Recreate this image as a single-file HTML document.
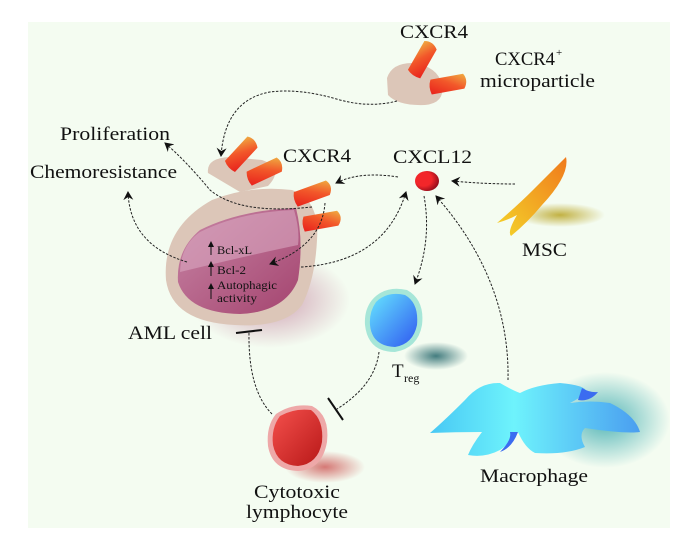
<!DOCTYPE html>
<html><head><meta charset="utf-8"><style>
html,body{margin:0;padding:0;background:#fff;width:685px;height:542px;overflow:hidden}
svg text{font-family:"Liberation Serif",serif;fill:#111}
</style></head><body>
<svg width="685" height="542" viewBox="0 0 685 542" xmlns="http://www.w3.org/2000/svg">
<defs>
<linearGradient id="rec" x1="0" y1="1" x2="1" y2="0"><stop offset="0" stop-color="#e8201c"/><stop offset="0.55" stop-color="#f2582a"/><stop offset="1" stop-color="#efb043"/></linearGradient>
<radialGradient id="blurm" cx="0.5" cy="0.5" r="0.5"><stop offset="0" stop-color="#b0547e" stop-opacity="0.55"/><stop offset="1" stop-color="#b0547e" stop-opacity="0"/></radialGradient>
<radialGradient id="blurr" cx="0.5" cy="0.5" r="0.5"><stop offset="0" stop-color="#c84040" stop-opacity="0.7"/><stop offset="1" stop-color="#c84040" stop-opacity="0"/></radialGradient>
<radialGradient id="blurt" cx="0.5" cy="0.5" r="0.5"><stop offset="0" stop-color="#2f6e72" stop-opacity="0.9"/><stop offset="1" stop-color="#2f6e72" stop-opacity="0"/></radialGradient>
<radialGradient id="blury" cx="0.5" cy="0.5" r="0.5"><stop offset="0" stop-color="#b9a424" stop-opacity="0.85"/><stop offset="1" stop-color="#b9a424" stop-opacity="0"/></radialGradient>
<radialGradient id="blurc" cx="0.5" cy="0.5" r="0.5"><stop offset="0" stop-color="#2aa3a8" stop-opacity="0.8"/><stop offset="1" stop-color="#2aa3a8" stop-opacity="0"/></radialGradient>
<linearGradient id="mag" x1="0" y1="0" x2="1" y2="1"><stop offset="0" stop-color="#c886a6"/><stop offset="1" stop-color="#a4446f"/></linearGradient>
<linearGradient id="treg" x1="0" y1="0" x2="1" y2="1"><stop offset="0" stop-color="#66e6ff"/><stop offset="1" stop-color="#2f57f0"/></linearGradient>
<linearGradient id="cyto" x1="0" y1="0" x2="1" y2="1"><stop offset="0" stop-color="#f4504c"/><stop offset="1" stop-color="#b81818"/></linearGradient>
<linearGradient id="mac" x1="0" y1="0" x2="1" y2="0"><stop offset="0" stop-color="#48c8f4"/><stop offset="0.4" stop-color="#6ef3fc"/><stop offset="1" stop-color="#4a9ef0"/></linearGradient>
<linearGradient id="msc" x1="0" y1="1" x2="1" y2="0"><stop offset="0" stop-color="#f4d42a"/><stop offset="1" stop-color="#f07a1c"/></linearGradient>
<radialGradient id="dot" cx="0.35" cy="0.4" r="0.7"><stop offset="0.5" stop-color="#f2262a"/><stop offset="1" stop-color="#8a0a1a"/></radialGradient>
<marker id="ah" markerWidth="10" markerHeight="10" refX="8" refY="5" orient="auto" markerUnits="userSpaceOnUse"><path d="M0,0 L9,5 L0,10 L3,5 Z" fill="#111"/></marker>
</defs>
<rect x="28" y="22" width="642" height="506" fill="#f4fcf1"/>
<!-- blurs -->
<ellipse cx="270" cy="300" rx="80" ry="48" fill="url(#blurm)"/>
<ellipse cx="325" cy="467" rx="40" ry="16" fill="url(#blurr)"/>
<ellipse cx="436" cy="356" rx="32" ry="14" fill="url(#blurt)"/>
<ellipse cx="560" cy="215" rx="45" ry="12" fill="url(#blury)"/>
<ellipse cx="605" cy="420" rx="65" ry="48" fill="url(#blurc)"/>
<!-- microparticle -->
<path d="M387,78 Q392,63 412,63 Q438,66 442,85 Q445,103 425,105 Q398,106 388,95 Z" fill="#dcc6b8"/>
<!-- AML cell -->
<path d="M208,173 Q206,158 230,157 L262,160 Q285,168 268,186 L240,192 Z" fill="#dcc6b8"/>
<path d="M212,200 Q250,185 292,190 Q320,200 317,240 Q315,280 302,305 Q285,328 235,325 Q172,322 166,280 Q162,228 212,200 Z" fill="#dcc6b8"/>
<path d="M200,230 Q240,210 296,208 Q304,240 298,280 Q285,312 240,314 Q188,313 178,282 Q176,250 200,230 Z" fill="url(#mag)"/>
<path d="M200,232 Q240,212 294,210 Q300,230 298,245 Q250,255 180,272 Q181,245 200,232 Z" fill="#d8a6c0" opacity="0.6"/>
<!-- receptors -->
<g transform="translate(243,154) rotate(-42)"><path d="M-18,-7 L15,-10 Q20,-3 15,5 L-18,8 Q-21,0 -18,-7 Z" fill="url(#rec)"/></g>
<g transform="translate(266,172) rotate(-20)"><path d="M-18,-7 L15,-10 Q20,-3 15,5 L-18,8 Q-21,0 -18,-7 Z" fill="url(#rec)"/></g>
<g transform="translate(314,194) rotate(-15)"><path d="M-19,-7 L15,-10 Q21,-3 15,5 L-19,8 Q-22,0 -19,-7 Z" fill="url(#rec)"/></g>
<g transform="translate(323,222) rotate(-5)"><path d="M-19,-7 L15,-10 Q21,-3 15,5 L-19,8 Q-22,0 -19,-7 Z" fill="url(#rec)"/></g>
<g transform="translate(424,59) rotate(-55)"><path d="M-18,-7 L15,-10 Q20,-3 15,5 L-18,8 Q-21,0 -18,-7 Z" fill="url(#rec)"/></g>
<g transform="translate(449,85) rotate(-5)"><path d="M-18,-7 L15,-10 Q20,-3 15,5 L-18,8 Q-21,0 -18,-7 Z" fill="url(#rec)"/></g>
<!-- CXCL12 dot -->
<ellipse cx="427" cy="181" rx="12" ry="10" fill="url(#dot)"/>
<!-- MSC -->
<path d="M566,157 Q570,175 542,205 Q528,222 511,236 Q507,232 517,215 Q508,220 497,223 Q518,205 533,190 Q553,170 566,157 Z" fill="url(#msc)"/>
<!-- Treg -->
<path d="M372,300 Q385,285 407,290 Q425,300 422,325 Q418,348 395,352 Q368,352 365,325 Q364,310 372,300 Z" fill="#a6e6d8"/>
<path d="M376,302 Q387,291 405,295 Q419,303 417,325 Q413,344 395,347 Q372,346 370,325 Q369,312 376,302 Z" fill="url(#treg)"/>
<!-- Cytotoxic -->
<path d="M276,414 Q292,403 312,406 Q330,415 327,442 Q322,470 298,471 Q272,470 268,446 Q266,426 276,414 Z" fill="#eea8a8"/>
<path d="M280,416 Q294,408 311,410 Q324,420 322,442 Q318,464 298,466 Q277,465 273,445 Q271,428 280,416 Z" fill="url(#cyto)"/>
<!-- Macrophage -->
<path d="M430,433 Q445,420 465,400 Q480,382 500,383 Q512,390 520,393 Q535,385 560,383 Q585,385 587,392 Q580,398 570,403 Q590,400 610,403 Q635,415 640,432 Q625,434 585,428 Q578,435 585,447 Q565,455 535,453 Q525,448 518,432 Q508,445 500,450 Q485,458 468,455 Q472,445 482,432 Q455,432 430,433 Z" fill="url(#mac)"/>
<path d="M582,388 Q590,393 598,392 Q590,402 578,400 Z" fill="#3b6cf0"/>
<path d="M518,432 Q512,448 500,452 Q512,440 510,432 Z" fill="#3b6cf0"/>
<!-- connectors -->
<g fill="none" stroke="#222" stroke-width="1" stroke-dasharray="2.5,1.5">
<path d="M397,101 Q370,108 340,100 Q300,88 270,92 Q225,100 221,156" marker-end="url(#ah)"/>
<path d="M312,207 Q240,215 210,190 Q185,160 165,143" marker-end="url(#ah)"/>
<path d="M187,262 Q130,245 128,192" marker-end="url(#ah)"/>
<path d="M325,203 Q322,245 270,264" marker-end="url(#ah)"/>
<path d="M398,177 Q360,171 336,183" marker-end="url(#ah)"/>
<path d="M301,267 Q385,262 406,192" marker-end="url(#ah)"/>
<path d="M515,184 Q485,184 452,181" marker-end="url(#ah)"/>
<path d="M424,196 Q432,240 415,284" marker-end="url(#ah)"/>
<path d="M508,380 Q510,280 436,196" marker-end="url(#ah)"/>
<path d="M272,414 Q248,390 249,332"/>
<path d="M379,352 Q375,385 337,409"/>
</g>
<g stroke="#111" stroke-width="2"><line x1="236" y1="333" x2="262" y2="330"/><line x1="328" y1="398" x2="343" y2="420"/></g>
<!-- inner arrows -->
<g stroke="#111" stroke-width="1"><line x1="211" y1="255" x2="211" y2="246"/><line x1="211" y1="276" x2="211" y2="266"/><line x1="211" y1="299" x2="211" y2="288"/></g>
<g fill="#111"><path d="M208,247 L211,241 L214,247Z"/><path d="M208,267 L211,261 L214,267Z"/><path d="M208,289 L211,283 L214,289Z"/></g>
<!-- labels -->
<text x="400" y="38" font-size="19" textLength="68" lengthAdjust="spacingAndGlyphs">CXCR4</text>
<text x="495" y="65" font-size="19" textLength="60" lengthAdjust="spacingAndGlyphs">CXCR4</text><text x="556" y="56" font-size="11">+</text>
<text x="480" y="87" font-size="19" textLength="115" lengthAdjust="spacingAndGlyphs">microparticle</text>
<text x="60" y="140" font-size="19" textLength="110" lengthAdjust="spacingAndGlyphs">Proliferation</text>
<text x="30" y="178" font-size="19" textLength="147" lengthAdjust="spacingAndGlyphs">Chemoresistance</text>
<text x="283" y="162" font-size="19" textLength="68" lengthAdjust="spacingAndGlyphs">CXCR4</text>
<text x="393" y="163" font-size="19" textLength="79" lengthAdjust="spacingAndGlyphs">CXCL12</text>
<text x="522" y="256" font-size="19" textLength="45" lengthAdjust="spacingAndGlyphs">MSC</text>
<text x="217" y="254" font-size="12" textLength="35" lengthAdjust="spacingAndGlyphs">Bcl-xL</text>
<text x="217" y="274" font-size="12" textLength="29" lengthAdjust="spacingAndGlyphs">Bcl-2</text>
<text x="217" y="289" font-size="12" textLength="60" lengthAdjust="spacingAndGlyphs">Autophagic</text>
<text x="217" y="302" font-size="12" textLength="40" lengthAdjust="spacingAndGlyphs">activity</text>
<text x="128" y="339" font-size="19" textLength="84" lengthAdjust="spacingAndGlyphs">AML cell</text>
<text x="392" y="377" font-size="19">T</text><text x="404" y="382" font-size="12">reg</text>
<text x="480" y="482" font-size="19" textLength="108" lengthAdjust="spacingAndGlyphs">Macrophage</text>
<text x="254" y="498" font-size="19" textLength="86" lengthAdjust="spacingAndGlyphs">Cytotoxic</text>
<text x="246" y="518" font-size="19" textLength="102" lengthAdjust="spacingAndGlyphs">lymphocyte</text>
</svg>
</body></html>
